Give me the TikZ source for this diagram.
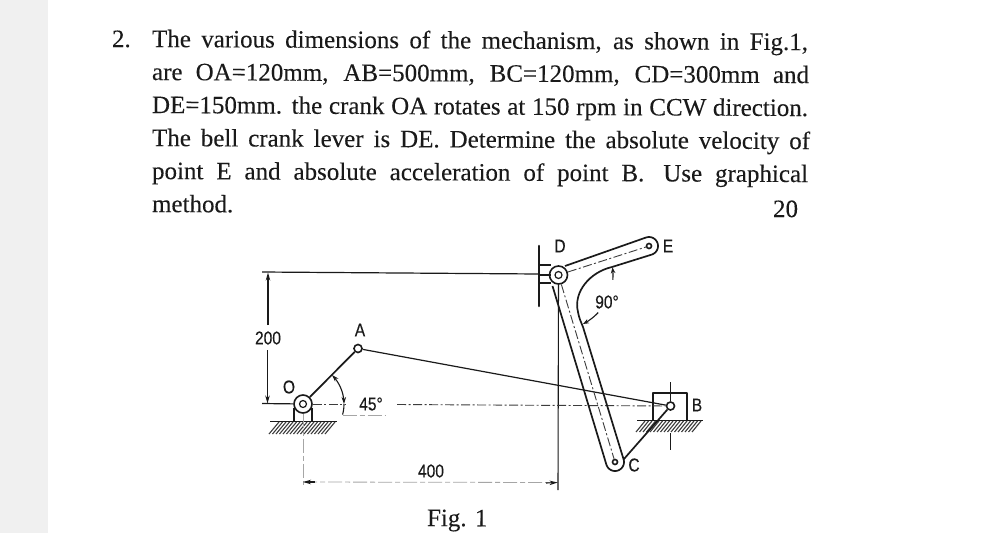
\documentclass[tikz,border=0pt]{standalone}
\usepackage{fontspec}
\setmainfont[FakeBold=0.12]{Liberation Serif}
\newfontfamily\labfont[FakeStretch=0.84,FakeBold=0.25]{Liberation Sans}
\usetikzlibrary{arrows.meta}
\definecolor{ink}{HTML}{1A1A1A}
\definecolor{band}{HTML}{F0F0F0}
\tikzset{
  body/.style={anchor=base west,inner sep=0pt,outer sep=0pt,text=ink,rotate=-0.27,font=\fontsize{25}{25}\selectfont},
  lab/.style={inner sep=0pt,text=ink,font=\labfont\fontsize{18.5}{19}\selectfont},
  part/.style={draw=ink,line width=1.7pt,line join=round},
  thin part/.style={draw=ink,line width=1.2pt},
  centre/.style={draw=ink!85,line width=0.9pt,dash pattern=on 9pt off 2.5pt on 2pt off 2.5pt},
  faint/.style={draw=black!35,line width=0.8pt,dash pattern=on 14pt off 3pt on 5pt off 3pt},
  dim/.style={draw=ink,line width=1.1pt},
  dimtip/.style={-{Stealth[length=8pt,width=4.5pt]}},
  joint/.style={circle,draw=ink,fill=white,line width=1.6pt,inner sep=0pt,minimum size=#1},
  ground/.style={draw=ink,line width=1.7pt},
  hatch/.style={draw=ink!85,line width=1.1pt},
}
\begin{document}
\begin{tikzpicture}[x=1pt,y=-1pt]
\useasboundingbox (0,0) rectangle (981,533);
\fill[white] (0,0) rectangle (981,533);
\fill[band] (0,0) rectangle (48,533);

% question text
\node[body] (num) at (112,47) {2.};
\node[body] (l1) at (152,47) {\hbox to 656pt{The various dimensions of the mechanism, as shown in Fig.1,}};
\node[body] (l2) at (152,80) {\hbox to 657pt{are OA=120mm, AB=500mm, BC=120mm, CD=300mm and}};
\node[body] (l3) at (152,113) {\hbox to 656pt{DE=150mm. the crank OA rotates at 150 rpm in CCW direction.}};
\node[body] (l4) at (152,146) {\hbox to 658pt{The bell crank lever is DE. Determine the absolute velocity of}};
\node[body] (l5) at (152,179) {\hbox to 656pt{point E and absolute acceleration of point B.\hspace{6pt} Use graphical}};
\node[body] (l6) at (152,212) {method.};
\node[body] (mk) at (773,217) {20};
\node[body] (fig) at (427,526) {Fig. 1};

% joints
\node[joint=18pt] (jO) at (303,404) {};
\node[joint=8pt] (jA) at (358,348.5) {};
\node[joint=8pt] (jB) at (670.5,406) {};
\node[joint=5pt] (jC) at (615,462) {};
\node[joint=18pt] (jD) at (558.5,275) {};
\node[joint=5pt] (jE) at (649,246) {};
\node[circle,draw=ink,line width=1.2pt,inner sep=0pt,minimum size=7pt,fill=white] (jOi) at (jO) {};
\node[circle,draw=ink,line width=1.2pt,inner sep=0pt,minimum size=7pt,fill=white] (jDi) at (jD) {};
\coordinate (slotC) at (623.6,459.4);

% ground at O
\coordinate (oL) at (294,421);
\coordinate (oR) at (312,421);
\draw[part] (294,408) -- (oL);
\draw[part] (312,408) -- (oR);
\draw[ground] (270,421.5) -- (337,421.5);
\foreach \x in {269,272.5,...,328}{\draw[hatch] (\x,434) -- ++(10,-12);}

% ground and block at B
\draw[part] (653,420) -- (653,393) -- (687,393) -- (687,420);
\draw[ground] (637,420.5) -- (703,420.5);
\foreach \x in {636,639.5,...,694}{\draw[hatch] (\x,432) -- ++(9,-11);}
\draw[thin part] (670.5,382) -- (jB);
\draw[thin part] (670.5,433) -- (670.5,450);

% wall at D
\draw[draw=ink,line width=2.6pt,line cap=round] (539,246) -- (539,306);
\foreach \y in {265,275,283}{\draw[thin part] (539,\y) -- (551,\y);}

% dimension 200
\coordinate (extTop) at (262,272);
\coordinate (ext200) at (262,403.5);
\coordinate (dimTop) at (268,272.5);
\coordinate (dimBot) at (267.5,403.5);
\coordinate (gapTop) at (268,325);
\coordinate (gapBot) at (267.5,350);
\node[lab] (t200) at (268,338) {200};
\draw[thin part] (extTop) -- (539,274);
\draw[dim,dimtip] (gapTop) -- (dimTop);
\draw[dim,dimtip] (gapBot) -- (dimBot);
\draw[thin part] (ext200) -- (jO);

% dimension 400
\coordinate (d4L) at (303,482);
\coordinate (d4R) at (557.5,482.5);
\draw[faint] (jO) -- (303,485);
\draw[faint] (d4L) -- (d4R);
\draw[dim,dimtip] (315,482) -- (d4L);
\draw[dim,dimtip] (546,483) -- (d4R);
\draw[dim] (jD) -- (558,490);
\node[lab] (t400) at (431,471) {400};

% links
\draw[part] (jO) -- (jA);
\draw[thin part] (jA) -- (jB);
\draw[part] (jB) -- (slotC);

% centre lines
\draw[centre] (jO) -- (345,404);
\draw[centre] (397,404.5) -- (jB);
\draw[centre] (jD) -- (jE);
\draw[centre] (jD) -- (jC);

% bell crank outline
\draw[part] (565,266) -- (646.3,237.4)
  plot[domain=-107.7:72.3,samples=25] ({649+9*cos(\x)},{246+9*sin(\x)})
  -- (612,267) .. controls (590,272) and (573,292) .. (578,312)
  .. controls (579,318) and (581,322) .. (583,327) -- (slotC)
  plot[domain=-17:163,samples=25] ({615+9*cos(\x)},{462+9*sin(\x)})
  -- (552.5,286);

% angle 45
\draw[dim,{Stealth[length=7pt,width=4.5pt]}-{Stealth[length=7pt,width=4.5pt]}] plot[domain=-45:0,samples=15] ({303+41*cos(\x)},{404+41*sin(\x)});
\draw[dim] plot[domain=0:15,samples=5] ({303+41*cos(\x)},{404+41*sin(\x)});
\draw[faint] (342.5,415) -- (385,415);
\node[lab] (t45) at (371,404) {45°};

% angle 90
\draw[dim,{Stealth[length=6pt,width=4.5pt]}-] plot[domain=-8:5,samples=6] ({558+55*cos(\x)},{275+55*sin(\x)});
\draw[dim,{Stealth[length=6pt,width=4.5pt]}-] plot[domain=63:43,samples=8] ({558+55*cos(\x)},{275+55*sin(\x)});
\node[lab] (t90) at (607,302) {90°};

% labels
\node[lab] (tO) at (289,387) {O};
\node[lab] (tA) at (360,330) {A};
\node[lab] (tB) at (697,405) {B};
\node[lab] (tC) at (634,465) {C};
\node[lab] (tD) at (560,246) {D};
\node[lab] (tE) at (668,246) {E};
\end{tikzpicture}
\end{document}
